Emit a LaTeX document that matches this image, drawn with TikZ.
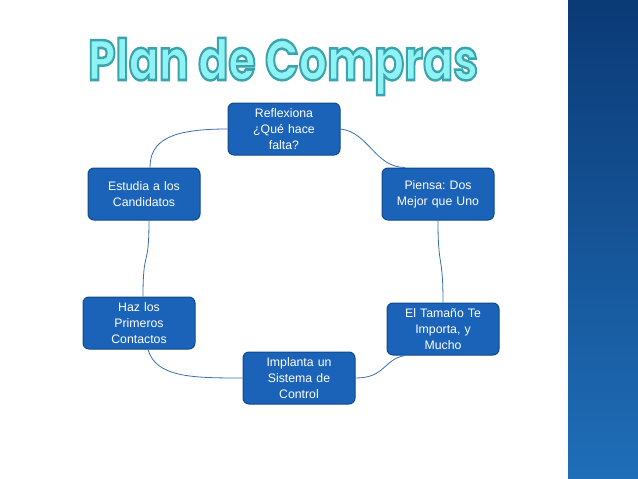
\documentclass[tikz,border=0pt]{standalone}
\usepackage{fontspec}
\setmainfont{Liberation Sans}
\newfontfamily\titlefont{Poppins}
\usetikzlibrary{math}
\frenchspacing

\definecolor{boxfill}{HTML}{1A63B8}
\definecolor{boxline}{HTML}{0E4A8C}
\definecolor{linkcol}{HTML}{3A6FAE}
\definecolor{titlefill}{HTML}{8FF3F3}
\definecolor{bartop}{HTML}{0B3A76}
\definecolor{barbot}{HTML}{1F6EB8}

% Outlined title text (fill + stroke)
\newcommand{\outlinedtext}[1]{%
	\special{pdf:literal direct 0.23 0.64 0.68 RG 2.2 w 2 Tr}#1\special{pdf:literal direct 0 Tr}}

\tikzset{
	stepbox/.style={draw=boxline, fill=boxfill, line width=1pt, rounded corners=6pt,
		minimum width=112pt, minimum height=52pt, text width=106pt, align=center,
		text=white, inner sep=0pt, font=\fontsize{12.3}{16}\selectfont},
	link/.style={draw=linkcol, line width=0.8pt},
}

\begin{document}
\begin{tikzpicture}[x=1pt, y=-1pt]
	% Constants
	\tikzmath{
		\picw = 638; \pich = 479; \barx = 568;
	}
	\useasboundingbox (0, 0) rectangle (\picw, \pich);
	\fill[white] (0, 0) rectangle (\picw, \pich);

	% Side bar
	\shade[top color=bartop, bottom color=barbot] (\barx, 0) rectangle (\picw, \pich);

	% Title
	\node[anchor=base, inner sep=0pt] (title) at (283, 80) {\resizebox{390pt}{42pt}{\titlefont\bfseries\fontsize{50}{50}\selectfont\color{titlefill}\outlinedtext{Plan de Compras}}};

	% Steps of the cycle
	\node[stepbox] (refl) at (284, 129) {Reflexiona\\ ¿Qué hace\\ falta?};
	\node[stepbox] (pien) at (438, 194) {Piensa: Dos\\ Mejor que Uno};
	\node[stepbox] (tama) at (443, 329) {El Tamaño Te\\ Importa, y\\ Mucho};
	\node[stepbox] (impl) at (299, 378) {Implanta un\\ Sistema de\\ Control};
	\node[stepbox] (haz)  at (139, 323) {Haz los\\ Primeros\\ Contactos};
	\node[stepbox] (estu) at (144, 194) {Estudia a los\\ Candidatos};

	% Links between steps
	\draw[link] (refl.west) .. controls +(-55, 0) and +(0, -28) .. ([xshift=6pt]estu.north);
	\draw[link] (refl.east) .. controls +(28, 3) and +(-30, 0) .. ([xshift=-33pt]pien.north);
	\draw[link] ([xshift=5pt]estu.south) .. controls +(0, 50) and +(0, -50) .. ([xshift=4pt]haz.north);
	\draw[link] (pien.south) .. controls +(0, 50) and +(0, -50) .. (tama.north);
	\draw[link] ([xshift=9pt]haz.south) .. controls +(8, 28) and +(-50, 0) .. (impl.west);
	\draw[link] (impl.east) .. controls +(30, 0) and +(-22, 4) .. ([xshift=-38pt]tama.south);
\end{tikzpicture}
\end{document}
